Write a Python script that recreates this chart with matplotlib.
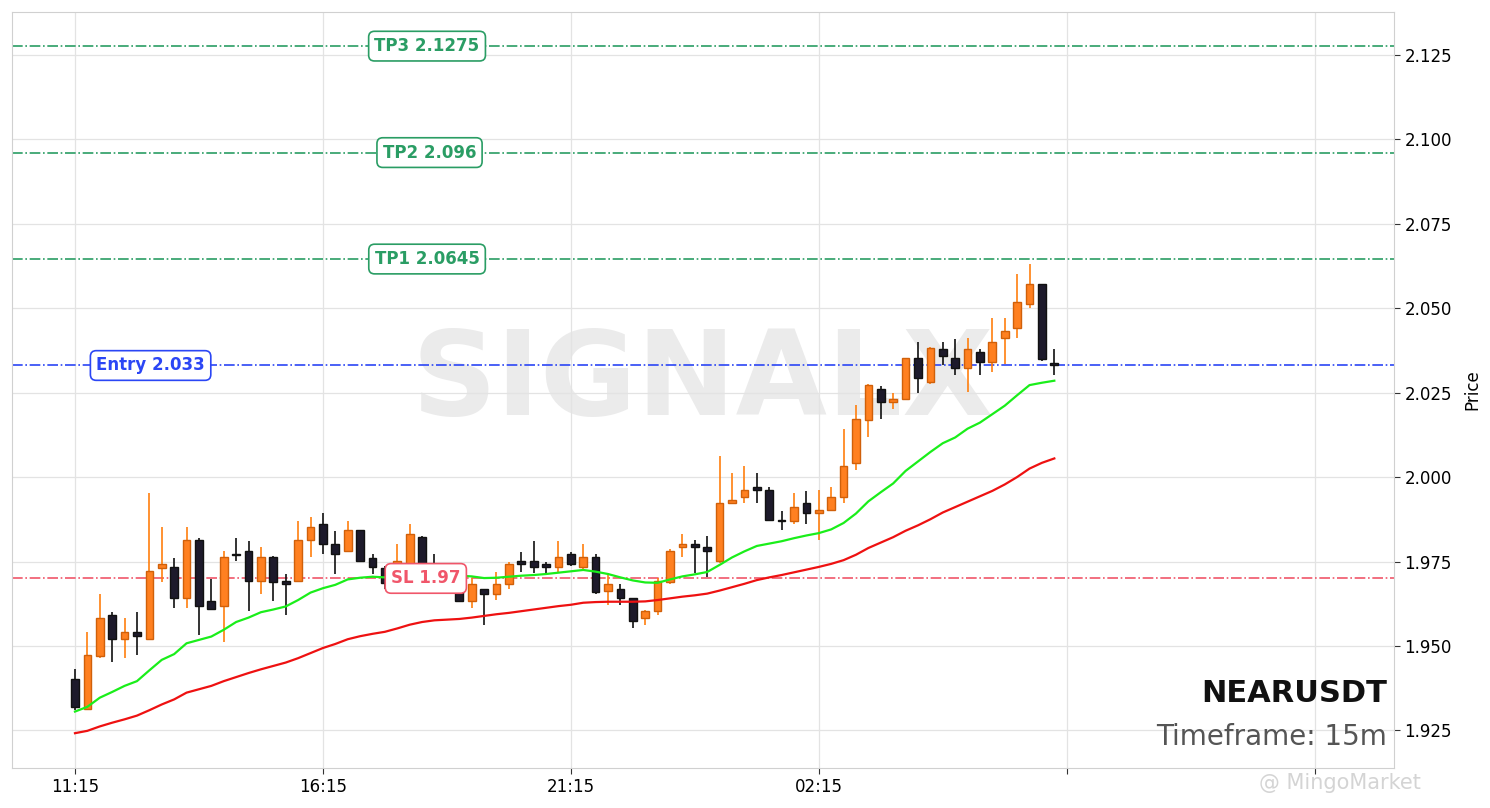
import numpy as np
import matplotlib
matplotlib.use('Agg')
import matplotlib.pyplot as plt

# datos de velas (15m)
opens = [1.9401, 1.9313, 1.9471, 1.9591, 1.9522, 1.9541, 1.9522, 1.9732, 1.9733, 1.9641,
         1.9813, 1.9633, 1.9619, 1.9773, 1.9781, 1.9691, 1.9762, 1.9692, 1.9692, 1.9814,
         1.9861, 1.9801, 1.9781, 1.9842, 1.9761, 1.9732, 1.9700, 1.9710, 1.9822, 1.9720,
         1.9700, 1.9690, 1.9633, 1.9670, 1.9653, 1.9683, 1.9751, 1.9751, 1.9743, 1.9733,
         1.9772, 1.9733, 1.9762, 1.9663, 1.9670, 1.9641, 1.9582, 1.9604, 1.9690, 1.9792,
         1.9801, 1.9792, 1.9751, 1.9922, 1.9940, 1.9971, 1.9962, 1.9873, 1.9870, 1.9922,
         1.9893, 1.9901, 1.9940, 2.0041, 2.0169, 2.0259, 2.0221, 2.0230, 2.0351, 2.0280,
         2.0380, 2.0351, 2.0322, 2.0371, 2.0339, 2.0410, 2.0440, 2.0512, 2.0571, 2.0338]
highs = [1.9431, 1.9541, 1.9653, 1.9601, 1.9582, 1.9601, 1.9952, 1.9851, 1.9761, 1.9851,
         1.9820, 1.9698, 1.9781, 1.9820, 1.9812, 1.9792, 1.9765, 1.9712, 1.9871, 1.9883,
         1.9893, 1.9840, 1.9871, 1.9843, 1.9771, 1.9736, 1.9802, 1.9862, 1.9826, 1.9771,
         1.9720, 1.9700, 1.9702, 1.9670, 1.9720, 1.9749, 1.9779, 1.9812, 1.9748, 1.9812,
         1.9779, 1.9801, 1.9772, 1.9715, 1.9683, 1.9641, 1.9607, 1.9701, 1.9787, 1.9830,
         1.9814, 1.9825, 2.0062, 2.0011, 2.0033, 2.0011, 1.9970, 1.9900, 1.9952, 1.9960,
         1.9962, 1.9971, 2.0141, 2.0212, 2.0275, 2.0270, 2.0249, 2.0352, 2.0400, 2.0384,
         2.0400, 2.0409, 2.0410, 2.0380, 2.0470, 2.0470, 2.0600, 2.0629, 2.0572, 2.0379]
lows = [1.9311, 1.9310, 1.9464, 1.9452, 1.9464, 1.9473, 1.9522, 1.9690, 1.9612, 1.9612,
        1.9533, 1.9607, 1.9511, 1.9751, 1.9604, 1.9653, 1.9633, 1.9592, 1.9690, 1.9764,
        1.9771, 1.9713, 1.9779, 1.9751, 1.9713, 1.9670, 1.9690, 1.9700, 1.9700, 1.9680,
        1.9660, 1.9630, 1.9612, 1.9562, 1.9636, 1.9670, 1.9720, 1.9715, 1.9715, 1.9720,
        1.9736, 1.9725, 1.9654, 1.9621, 1.9620, 1.9554, 1.9562, 1.9592, 1.9683, 1.9762,
        1.9715, 1.9705, 1.9745, 1.9920, 1.9924, 1.9924, 1.9872, 1.9843, 1.9862, 1.9861,
        1.9814, 1.9900, 1.9922, 2.0021, 2.0119, 2.0171, 2.0201, 2.0229, 2.0250, 2.0275,
        2.0331, 2.0302, 2.0252, 2.0302, 2.0310, 2.0334, 2.0410, 2.0499, 2.0343, 2.0302]
closes = [1.9320, 1.9473, 1.9583, 1.9522, 1.9541, 1.9530, 1.9722, 1.9742, 1.9641, 1.9813,
          1.9619, 1.9610, 1.9762, 1.9769, 1.9691, 1.9762, 1.9690, 1.9683, 1.9814, 1.9851,
          1.9801, 1.9771, 1.9842, 1.9751, 1.9734, 1.9685, 1.9751, 1.9831, 1.9720, 1.9700,
          1.9680, 1.9633, 1.9683, 1.9654, 1.9683, 1.9743, 1.9742, 1.9733, 1.9733, 1.9762,
          1.9742, 1.9762, 1.9661, 1.9683, 1.9641, 1.9574, 1.9604, 1.9692, 1.9781, 1.9801,
          1.9792, 1.9781, 1.9922, 1.9932, 1.9962, 1.9961, 1.9872, 1.9870, 1.9910, 1.9893,
          1.9902, 1.9940, 2.0033, 2.0171, 2.0272, 2.0221, 2.0230, 2.0351, 2.0292, 2.0381,
          2.0359, 2.0322, 2.0380, 2.0339, 2.0401, 2.0432, 2.0519, 2.0571, 2.0348, 2.0331]

# medias moviles (verde rapida, roja lenta)
ema_fast = [1.9306, 1.9320, 1.9347, 1.9364, 1.9382, 1.9396, 1.9428, 1.9459, 1.9476, 1.9508,
            1.9518, 1.9528, 1.9548, 1.9571, 1.9584, 1.9600, 1.9608, 1.9617, 1.9636, 1.9658,
            1.9671, 1.9681, 1.9697, 1.9702, 1.9705, 1.9703, 1.9702, 1.9703, 1.9705, 1.9706,
            1.9707, 1.9708, 1.9706, 1.9701, 1.9702, 1.9705, 1.9708, 1.9710, 1.9713, 1.9717,
            1.9721, 1.9725, 1.9720, 1.9713, 1.9703, 1.9694, 1.9688, 1.9687, 1.9697, 1.9706,
            1.9712, 1.9719, 1.9740, 1.9762, 1.9780, 1.9796, 1.9803, 1.9810, 1.9819, 1.9827,
            1.9834, 1.9845, 1.9864, 1.9892, 1.9928, 1.9955, 1.9981, 2.0018, 2.0046, 2.0074,
            2.0100, 2.0117, 2.0143, 2.0161, 2.0186, 2.0211, 2.0242, 2.0272, 2.0279, 2.0285]
ema_slow = [1.9242, 1.9249, 1.9262, 1.9273, 1.9283, 1.9294, 1.9310, 1.9327, 1.9342, 1.9362,
            1.9372, 1.9382, 1.9396, 1.9408, 1.9420, 1.9431, 1.9441, 1.9451, 1.9464, 1.9479,
            1.9494, 1.9506, 1.9520, 1.9529, 1.9536, 1.9542, 1.9552, 1.9563, 1.9571, 1.9576,
            1.9578, 1.9580, 1.9584, 1.9589, 1.9594, 1.9598, 1.9603, 1.9608, 1.9613, 1.9618,
            1.9622, 1.9628, 1.9630, 1.9631, 1.9631, 1.9631, 1.9632, 1.9636, 1.9641, 1.9646,
            1.9650, 1.9655, 1.9664, 1.9674, 1.9684, 1.9695, 1.9703, 1.9710, 1.9718, 1.9726,
            1.9734, 1.9743, 1.9754, 1.9770, 1.9790, 1.9806, 1.9822, 1.9841, 1.9857, 1.9875,
            1.9895, 1.9911, 1.9927, 1.9943, 1.9959, 1.9978, 2.0000, 2.0025, 2.0042, 2.0055]

# niveles de la senal
level_names = ['TP3', 'TP2', 'TP1', 'Entry', 'SL']
level_values = [2.1275, 2.096, 2.0645, 2.033, 1.97]
level_text = ['TP3 2.1275', 'TP2 2.096', 'TP1 2.0645', 'Entry 2.033', 'SL 1.97']

tick_pos = [0, 20, 40, 60, 80, 100]
tick_labels = ['11:15', '16:15', '21:15', '02:15', '', '']

symbol = 'NEARUSDT'
timeframe = 'Timeframe: 15m'

level_colors = {'TP3': '#2a9d64', 'TP2': '#2a9d64', 'TP1': '#2a9d64',
                'Entry': '#2b46f5', 'SL': '#f0566a'}
label_x = {'TP3': 28.4, 'TP2': 28.6, 'TP1': 28.4, 'Entry': 6.1, 'SL': 28.3}

fig = plt.figure(figsize=(14.9, 8.08), dpi=100)
ax = fig.add_axes([12/1490, 1 - 768/808, (1394 - 12)/1490, (768 - 12)/808])

x = np.arange(len(opens))
o = np.array(opens)
c = np.array(closes)
h = np.array(highs)
l = np.array(lows)
up = c >= o

# marca de agua
ax.text(0.5, 0.51, 'SIGNALX', transform=ax.transAxes, ha='center', va='center',
        fontsize=85, fontweight='bold', color='#ebebeb', zorder=0)

# mechas
ax.vlines(x[up], l[up], h[up], color='#ff7f0e', lw=1.2, zorder=2)
ax.vlines(x[~up], l[~up], h[~up], color='#111111', lw=1.2, zorder=2)
# cuerpos
body = np.abs(c - o)
body = np.maximum(body, 0.0003)
bottom = np.minimum(o, c)
ax.bar(x[up], body[up], bottom=bottom[up], width=0.62, color='#ff8020',
       edgecolor='#d0600a', linewidth=1.0, zorder=3)
ax.bar(x[~up], body[~up], bottom=bottom[~up], width=0.62, color='#1d1a2b',
       edgecolor='#111111', linewidth=1.0, zorder=3)

ax.plot(x, ema_fast, color='#1aee1a', lw=1.6, zorder=4)
ax.plot(x, ema_slow, color='#ee1111', lw=1.6, zorder=4)

for name, val, txt in zip(level_names, level_values, level_text):
    col = level_colors[name]
    ax.axhline(val, color=col, lw=1.2, ls='-.', zorder=1.5)
    ax.text(label_x[name], val, txt, ha='center', va='center', fontsize=12,
            fontweight='bold', color=col, zorder=6,
            bbox=dict(boxstyle='round,pad=0.35', fc='white', ec=col, lw=1.2))

ax.text(0.995, 0.099, symbol, transform=ax.transAxes, ha='right', va='center',
        fontsize=22, fontweight='bold', color='#111111', zorder=7)
ax.text(0.995, 0.041, timeframe, transform=ax.transAxes, ha='right', va='center',
        fontsize=20, color='#555555', zorder=7)

ax.set_xlim(-5.08, 106.4)
ax.set_ylim(1.9139, 2.1376)
ax.set_xticks(tick_pos)
ax.set_xticklabels(tick_labels)
ax.yaxis.tick_right()
ax.yaxis.set_label_position('right')
ax.set_ylabel('Price', fontsize=12, labelpad=8)
ax.set_yticks([1.925, 1.95, 1.975, 2.0, 2.025, 2.05, 2.075, 2.1, 2.125])
ax.set_yticklabels(['%.3f' % v for v in ax.get_yticks()])
ax.tick_params(labelsize=12, length=4, color='#333333')
ax.grid(True, color='#e3e3e3', lw=0.9, zorder=0)
ax.set_axisbelow(True)
for s in ax.spines.values():
    s.set_color('#d0d0d0')

fig.text(0.845, 0.031, '@ MingoMarket', fontsize=15, color='#d4d4d4',
         ha='left', va='center')

fig.savefig('out.png', dpi=100)
